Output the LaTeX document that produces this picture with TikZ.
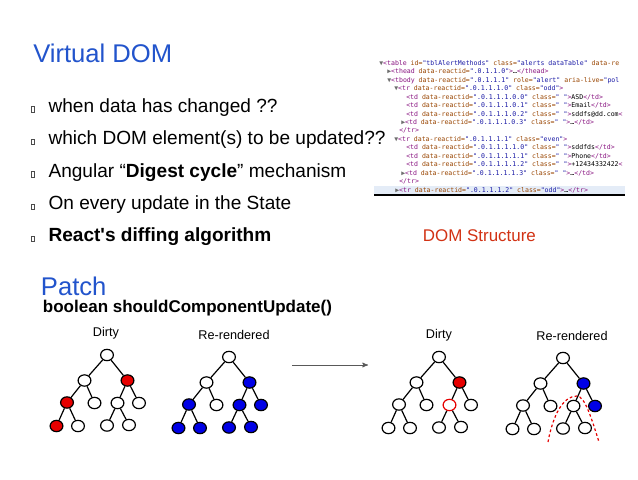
\documentclass[tikz,border=0pt]{standalone}
\usepackage{fontspec}
\setmainfont{Liberation Sans}
\newfontfamily\codefont{DejaVu Sans Mono}
\usetikzlibrary{arrows, positioning, shapes.geometric}

\definecolor{titleblue}{RGB}{34,84,204}
\definecolor{domred}{RGB}{210,50,20}
\definecolor{nodered}{RGB}{230,0,0}
\definecolor{nodeblue}{RGB}{0,0,230}
\definecolor{tagc}{HTML}{881280}
\definecolor{attrc}{HTML}{994500}
\definecolor{valc}{HTML}{1A1AA6}
\definecolor{tric}{HTML}{6E6E6E}
\definecolor{rowhl}{HTML}{E4ECF7}

\newcommand\tg[1]{\textcolor{tagc}{#1}}
\newcommand\atr[1]{\textcolor{attrc}{#1}}
\newcommand\vl[1]{\textcolor{valc}{#1}}
\newcommand\tri[1]{\textcolor{tric}{#1}}

\begin{document}
\begin{tikzpicture}[x=0.75pt, y=-0.75pt,
		heading/.style={anchor=base west, inner sep=0, text=titleblue, font=\fontsize{19.2}{23}\selectfont},
		item/.style={anchor=base west, inner sep=0, font=\fontsize{14.3}{17}\selectfont},
		bulletbox/.style={draw=black!70, rectangle, line width=0.4pt, inner sep=0, minimum width=2.8pt, minimum height=4.1pt},
		codeline/.style={anchor=base west, inner sep=0, font=\codefont\fontsize{4.9}{6}\selectfont\frenchspacing},
		treelabel/.style={inner sep=0, font=\fontsize{9.5}{11}\selectfont},
		vnode/.style={draw, ellipse, fill=white, line width=0.9pt, inner sep=0, minimum width=9.6pt, minimum height=8.5pt},
		dirty/.style={vnode, fill=nodered},
		rendered/.style={vnode, fill=nodeblue},
		changed/.style={vnode, draw=nodered},
		cutline/.style={draw=nodered, dash pattern=on 2pt off 1.8pt, line width=0.9pt},
		every edge/.append style={draw, line width=0.9pt},]
		\useasboundingbox (0,0) rectangle (638,479);
		\fill[white] (0,0) rectangle (638,479);

		% slide text
		\node (title) [heading] at (33,62) {Virtual DOM};
		\node (when) [item] at (48.3,112.3) {when data has changed ??};
		\node (which) [item, below=24.3pt of when.base west, anchor=base west] {which DOM element(s) to be updated??};
		\node (angular) [item, below=24.3pt of which.base west, anchor=base west] {Angular “\textbf{Digest cycle}” mechanism};
		\node (onupdate) [item, below=24.3pt of angular.base west, anchor=base west] {On every update in the State};
		\node (diffing) [item, below=24.3pt of onupdate.base west, anchor=base west] {\textbf{React\textquotesingle s diffing algorithm}};
		\node (b-when) [bulletbox, left=10pt of when.base west, anchor=south east] {};
		\node (b-which) [bulletbox, left=10pt of which.base west, anchor=south east] {};
		\node (b-angular) [bulletbox, left=10pt of angular.base west, anchor=south east] {};
		\node (b-onupdate) [bulletbox, left=10pt of onupdate.base west, anchor=south east] {};
		\node (b-diffing) [bulletbox, left=10pt of diffing.base west, anchor=south east] {};
		\node (domstruct) [item, text=domred, font=\fontsize{12.7}{15}\selectfont] at (422.7,241) {DOM Structure};
		\node (patch) [heading] at (40.7,295) {Patch};
		\node (shouldupd) [item, font=\bfseries\fontsize{12.75}{15}\selectfont] at (42.7,312.7) {boolean shouldComponentUpdate()};

		% devtools snippet
		\begin{scope}
			\clip (370,40) rectangle (625,200);
			\fill[rowhl] (374,185.5) rectangle (625,194);
			\node (code1) [codeline] at (379,65.5) {\tri{▼}\tg{<table} \atr{id=}\vl{"tblAlertMethods"} \atr{class=}\vl{"alerts dataTable"} \atr{data-re}};
			\node (code2) [codeline] at (387,73.9) {\tri{▶}\tg{<thead} \atr{data-reactid=}\vl{".0.1.1.0"}\tg{>}…\tg{</thead>}};
			\node (code3) [codeline] at (387,82.4) {\tri{▼}\tg{<tbody} \atr{data-reactid=}\vl{".0.1.1.1"} \atr{role=}\vl{"alert"} \atr{aria-live=}\vl{"pol}};
			\node (code4) [codeline] at (394,90.8) {\tri{▼}\tg{<tr} \atr{data-reactid=}\vl{".0.1.1.1.0"} \atr{class=}\vl{"odd"}\tg{>}};
			\node (code5) [codeline] at (406,99.2) {\tg{<td} \atr{data-reactid=}\vl{".0.1.1.1.0.0"} \atr{class=}\vl{" "}\tg{>}ASD\tg{</td>}};
			\node (code6) [codeline] at (406,107.7) {\tg{<td} \atr{data-reactid=}\vl{".0.1.1.1.0.1"} \atr{class=}\vl{" "}\tg{>}Email\tg{</td>}};
			\node (code7) [codeline] at (406,116.1) {\tg{<td} \atr{data-reactid=}\vl{".0.1.1.1.0.2"} \atr{class=}\vl{" "}\tg{>}sddfs@dd.com\tg{<}};
			\node (code8) [codeline] at (401,124.5) {\tri{▶}\tg{<td} \atr{data-reactid=}\vl{".0.1.1.1.0.3"} \atr{class=}\vl{" "}\tg{>}…\tg{</td>}};
			\node (code9) [codeline] at (399,132.9) {\tg{</tr>}};
			\node (code10) [codeline] at (394,141.4) {\tri{▼}\tg{<tr} \atr{data-reactid=}\vl{".0.1.1.1.1"} \atr{class=}\vl{"even"}\tg{>}};
			\node (code11) [codeline] at (406,149.8) {\tg{<td} \atr{data-reactid=}\vl{".0.1.1.1.1.0"} \atr{class=}\vl{" "}\tg{>}sddfds\tg{</td>}};
			\node (code12) [codeline] at (406,158.2) {\tg{<td} \atr{data-reactid=}\vl{".0.1.1.1.1.1"} \atr{class=}\vl{" "}\tg{>}Phone\tg{</td>}};
			\node (code13) [codeline] at (406,166.7) {\tg{<td} \atr{data-reactid=}\vl{".0.1.1.1.1.2"} \atr{class=}\vl{" "}\tg{>}+12434332422\tg{<}};
			\node (code14) [codeline] at (401,175.1) {\tri{▶}\tg{<td} \atr{data-reactid=}\vl{".0.1.1.1.1.3"} \atr{class=}\vl{" "}\tg{>}…\tg{</td>}};
			\node (code15) [codeline] at (399,183.5) {\tg{</tr>}};
			\node (code16) [codeline] at (395,192) {\tri{▶}\tg{<tr} \atr{data-reactid=}\vl{".0.1.1.1.2"} \atr{class=}\vl{"odd"}\tg{>}…\tg{</tr>}};
		\end{scope}
		\draw[line width=1.1pt] (374,195) -- (625,195);

		% dirty tree, before
		\begin{scope}[shift={(107,355)}]
			\node (dirty1-lbl) [treelabel] at (-1,-22) {Dirty};
			\node (dirty1) [vnode] at (0,0) {};
			\node (dirty1-l) [vnode] at (-22.5,25.5) {};
			\node (dirty1-r) [dirty] at (20.5,25.5) {};
			\node (dirty1-ll) [dirty] at (-40,47.5) {};
			\node (dirty1-lr) [vnode] at (-12.5,48) {};
			\node (dirty1-rl) [vnode] at (10.5,48) {};
			\node (dirty1-rr) [vnode] at (32,48) {};
			\node (dirty1-lll) [dirty] at (-50.5,71) {};
			\node (dirty1-llr) [vnode] at (-29,71) {};
			\node (dirty1-rll) [vnode] at (0,70.5) {};
			\node (dirty1-rlr) [vnode] at (22,70) {};
			\path 	(dirty1)	edge	(dirty1-l)	edge	(dirty1-r)
					(dirty1-l)	edge	(dirty1-ll)	edge	(dirty1-lr)
					(dirty1-r)	edge	(dirty1-rl)	edge	(dirty1-rr)
					(dirty1-ll)	edge	(dirty1-lll)	edge	(dirty1-llr)
					(dirty1-rl)	edge	(dirty1-rll)	edge	(dirty1-rlr);
		\end{scope}

		% re-rendered tree, before
		\begin{scope}[shift={(229,357)}]
			\node (rend1-lbl) [treelabel] at (5,-22) {Re-rendered};
			\node (rend1) [vnode] at (0,0) {};
			\node (rend1-l) [vnode] at (-22.5,25.5) {};
			\node (rend1-r) [rendered] at (20.5,25.5) {};
			\node (rend1-ll) [rendered] at (-40,47.5) {};
			\node (rend1-lr) [vnode] at (-12.5,48) {};
			\node (rend1-rl) [rendered] at (10.5,48) {};
			\node (rend1-rr) [rendered] at (32,48) {};
			\node (rend1-lll) [rendered] at (-50.5,71) {};
			\node (rend1-llr) [rendered] at (-29,71) {};
			\node (rend1-rll) [rendered] at (0,70.5) {};
			\node (rend1-rlr) [rendered] at (22,70) {};
			\path 	(rend1)		edge	(rend1-l)	edge	(rend1-r)
					(rend1-l)	edge	(rend1-ll)	edge	(rend1-lr)
					(rend1-r)	edge	(rend1-rl)	edge	(rend1-rr)
					(rend1-ll)	edge	(rend1-lll)	edge	(rend1-llr)
					(rend1-rl)	edge	(rend1-rll)	edge	(rend1-rlr);
		\end{scope}

		\coordinate (arr-from) at (292,365);
		\coordinate (arr-to) at (368,365);
		\path (arr-from) edge[-stealth', draw=black!65, line width=0.6pt] (arr-to);

		% dirty tree, after
		\begin{scope}[shift={(439,357)}]
			\node (dirty2-lbl) [treelabel] at (0,-22) {Dirty};
			\node (dirty2) [vnode] at (0,0) {};
			\node (dirty2-l) [vnode] at (-22.5,25.5) {};
			\node (dirty2-r) [dirty] at (20.5,25.5) {};
			\node (dirty2-ll) [vnode] at (-40,47.5) {};
			\node (dirty2-lr) [vnode] at (-12.5,48) {};
			\node (dirty2-rl) [changed] at (10.5,48) {};
			\node (dirty2-rr) [vnode] at (32,48) {};
			\node (dirty2-lll) [vnode] at (-50.5,71) {};
			\node (dirty2-llr) [vnode] at (-29,71) {};
			\node (dirty2-rll) [vnode] at (0,70.5) {};
			\node (dirty2-rlr) [vnode] at (22,70) {};
			\path 	(dirty2)	edge	(dirty2-l)	edge	(dirty2-r)
					(dirty2-l)	edge	(dirty2-ll)	edge	(dirty2-lr)
					(dirty2-r)	edge	(dirty2-rl)	edge	(dirty2-rr)
					(dirty2-ll)	edge	(dirty2-lll)	edge	(dirty2-llr)
					(dirty2-rl)	edge	(dirty2-rll)	edge	(dirty2-rlr);
		\end{scope}

		% re-rendered tree, after
		\begin{scope}[shift={(563,358)}]
			\node (rend2-lbl) [treelabel] at (9,-22) {Re-rendered};
			\node (rend2) [vnode] at (0,0) {};
			\node (rend2-l) [vnode] at (-22.5,25.5) {};
			\node (rend2-r) [rendered] at (20.5,25.5) {};
			\node (rend2-ll) [vnode] at (-40,47.5) {};
			\node (rend2-lr) [vnode] at (-12.5,48) {};
			\node (rend2-rl) [vnode] at (10.5,48) {};
			\node (rend2-rr) [rendered] at (32,48) {};
			\node (rend2-lll) [vnode] at (-50.5,71) {};
			\node (rend2-llr) [vnode] at (-29,71) {};
			\node (rend2-rll) [vnode] at (0,70.5) {};
			\node (rend2-rlr) [vnode] at (22,70) {};
			\path 	(rend2)		edge	(rend2-l)	edge	(rend2-r)
					(rend2-l)	edge	(rend2-ll)	edge	(rend2-lr)
					(rend2-r)	edge	(rend2-rl)	edge	(rend2-rr)
					(rend2-ll)	edge	(rend2-lll)	edge	(rend2-llr)
					(rend2-rl)	edge	(rend2-rll)	edge	(rend2-rlr);
			\draw[cutline] (-15,84) .. controls (-10,57) and (0,38) .. (14,38)
						.. controls (22,38) and (29,62) .. (36,84);
		\end{scope}
	\end{tikzpicture}
\end{document}
